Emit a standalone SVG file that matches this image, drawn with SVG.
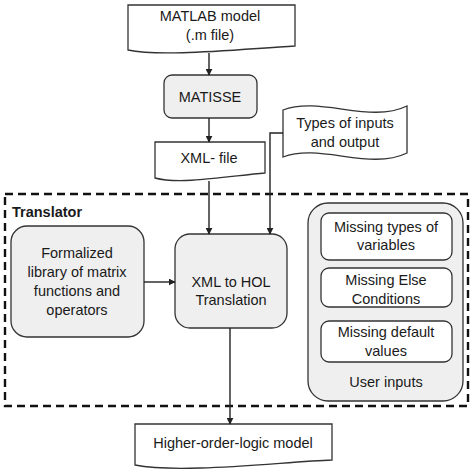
<svg xmlns="http://www.w3.org/2000/svg" width="474" height="475" viewBox="0 0 474 475">
<style>
.sh{fill:#ffffff;stroke:#333;stroke-width:1.3}
.gr{fill:#efefef;stroke:#333;stroke-width:1.3}
text{font-family:"Liberation Sans",Arial,sans-serif;font-size:14.5px;fill:#1a1a1a;text-anchor:middle;dominant-baseline:central}
.c{fill:none;stroke:#222;stroke-width:1.4}
</style>
<defs>
<marker id="ah" viewBox="0 0 10 10" refX="9" refY="5" markerWidth="7" markerHeight="7" markerUnits="userSpaceOnUse" orient="auto">
<path d="M0,0 L10,5 L0,10 Z" fill="#222"/>
</marker>
</defs>
<rect id="translator" x="5" y="194" width="463" height="212" fill="none" stroke="#111" stroke-width="2.4" stroke-dasharray="8 5"/>
<text x="12" y="212" style="text-anchor:start;font-weight:bold;font-size:14.5px">Translator</text>
<g id="matlab">
<path class="sh" d="M128,5 H295 V46 C230,50 160,57 128,50 Z"/>
<text x="210" y="16">MATLAB model</text>
<text x="210" y="35">(.m file)</text>
</g>
<g id="matisse">
<rect class="gr" x="164" y="75" width="93" height="43" rx="8"/>
<text x="210" y="97">MATISSE</text>
</g>
<g id="xmlfile">
<path class="sh" d="M155,142 H265 V173 C230,176 180,185 155,178 Z"/>
<text x="209" y="158">XML- file</text>
</g>
<g id="types">
<path class="sh" d="M283,110 C320,96 370,124 407,106 L407,153 C370,171 320,143 283,157 Z"/>
<text x="345" y="123">Types of inputs</text>
<text x="345" y="142">and output</text>
</g>
<g id="library">
<rect class="gr" x="11" y="226" width="133" height="111" rx="16"/>
<text x="77" y="253">Formalized</text>
<text x="77" y="272">library of matrix</text>
<text x="77" y="291">functions and</text>
<text x="77" y="310">operators</text>
</g>
<g id="xml2hol">
<rect class="gr" x="175" y="234" width="112" height="94" rx="15"/>
<text x="231" y="282">XML to HOL</text>
<text x="231" y="300">Translation</text>
</g>
<g id="userinputs">
<rect class="gr" x="308" y="203" width="155" height="198" rx="20"/>
<rect class="sh" x="321" y="213" width="131" height="47" rx="8"/>
<text x="386" y="227">Missing types of</text>
<text x="386" y="245">variables</text>
<rect class="sh" x="321" y="268" width="131" height="39" rx="8"/>
<text x="386" y="280">Missing Else</text>
<text x="386" y="299">Conditions</text>
<rect class="sh" x="321" y="321" width="131" height="41" rx="8"/>
<text x="386" y="332">Missing default</text>
<text x="386" y="351">values</text>
<text x="386" y="382">User inputs</text>
</g>
<g id="hol">
<path class="sh" d="M135,424 H332 V460 C280,462 180,474 135,465 Z"/>
<text x="233" y="443">Higher-order-logic model</text>
</g>
<g id="connectors">
<line class="c" x1="209" y1="53" x2="209" y2="75" marker-end="url(#ah)"/>
<line class="c" x1="209" y1="118" x2="209" y2="142" marker-end="url(#ah)"/>
<line class="c" x1="209" y1="181" x2="209" y2="234" marker-end="url(#ah)"/>
<polyline class="c" points="283,133 270,133 270,234" marker-end="url(#ah)"/>
<line class="c" x1="144" y1="282" x2="175" y2="282" marker-end="url(#ah)"/>
<line class="c" x1="230" y1="328" x2="230" y2="424" marker-end="url(#ah)"/>
</g>
</svg>
